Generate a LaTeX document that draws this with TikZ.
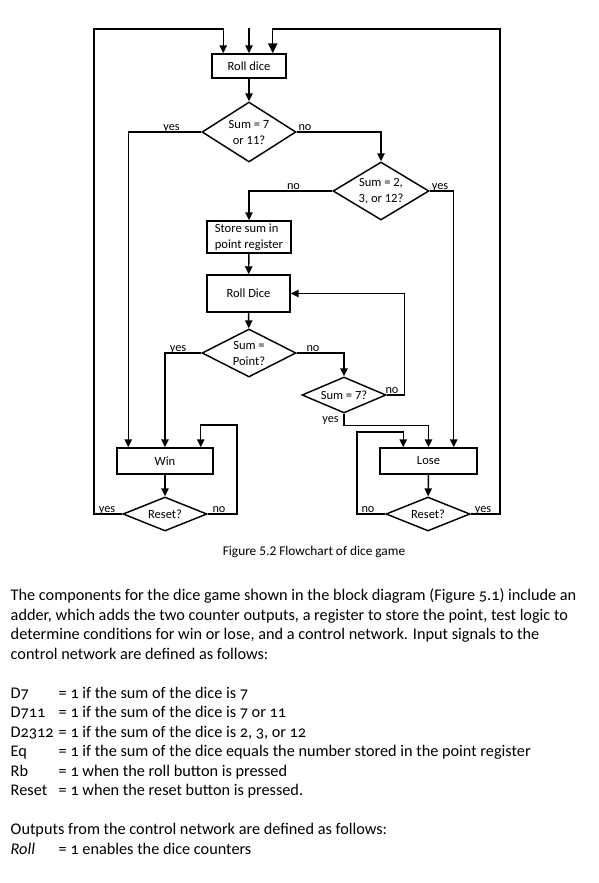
\documentclass[tikz,border=0pt]{standalone}
\usepackage{fontspec}
\setmainfont{Carlito}
\newfontfamily\bodyfont[Numbers=OldStyle]{Carlito}
\usetikzlibrary{arrows.meta,shapes.geometric,calc}
\def\px{*0.75pt}
\begin{document}
\begin{tikzpicture}[x=0.75pt,y=-0.75pt, line width=1.1pt,
  box/.style={draw, rectangle, inner sep=0pt, font=\fontsize{9.4}{12}\selectfont, align=center},
  dia/.style={draw, diamond, inner sep=0pt, font=\fontsize{9.4}{12}\selectfont, align=center},
  arr/.style={-{Triangle[length=6pt,width=5.5pt]}},
  bigarr/.style={-{Triangle[length=7.5pt,width=7pt]}},
  lab/.style={font=\fontsize{9.2}{10}\selectfont, inner sep=0pt, anchor=base},
  txt/.style={font=\bodyfont\fontsize{12.2}{14}\selectfont, inner sep=0pt, anchor=base west},
  ]
\useasboundingbox (0,0) rectangle (599,883);

% nodes
\node[box, minimum width=74\px, minimum height=24\px] (roll1) at (249,66) {Roll dice};
\node[dia, minimum width=94\px, minimum height=60\px, aspect=1.57] (d1) at (249,132) {Sum = 7\\or 11?};
\node[dia, minimum width=96\px, minimum height=58\px, aspect=1.65] (d2) at (381,191) {Sum = 2,\\3, or 12?};
\node[box, minimum width=84\px, minimum height=32\px, align=left] (store) at (249,237) {Store sum in\\point register};
\node[box, minimum width=83\px, minimum height=37\px] (roll2) at (248.5,293.5) {Roll Dice};
\node[dia, minimum width=94\px, minimum height=48\px, aspect=1.96] (d3) at (249,353) {Sum =\\Point?};
\node[dia, minimum width=84\px, minimum height=36\px, aspect=2.33] (d4) at (344,395) {Sum = 7?};
\node[box, minimum width=96\px, minimum height=26\px] (win) at (165,461) {Win};
\node[box, minimum width=97\px, minimum height=26\px] (lose) at (428.5,461) {Lose};
\node[dia, minimum width=84\px, minimum height=34\px, aspect=2.47] (r1) at (165,514) {Reset?};
\node[dia, minimum width=84\px, minimum height=34\px, aspect=2.47] (r2) at (428,514) {Reset?};

\coordinate (top) at (249,28);
\coordinate (leftc) at (94,29);
\coordinate (rightc) at (500,29);
\coordinate (rA) at (237,425);
\coordinate (rB) at (357,432);

% connectors
\draw[arr] (top) -- (roll1.north);
\draw[arr] (roll1) -- (d1);
\draw[arr] (d1.west) -| ($(win.north west)+(12,0)$);
\draw[arr] (d1.east) -| (d2.north);
\draw[arr] (d2.west) -| (store.north);
\draw[arr] (d2.east) -| ($(lose.north east)+(-24,0)$);
\draw[arr] (store) -- (roll2);
\draw[arr] (roll2) -- (d3);
\draw[arr] (d3.west) -| (win.north);
\draw[arr] (d3.east) -| (d4.north);
\draw[arr] (d4.east) -- ++(18,0) |- (roll2.east);
\draw[arr] (d4.south) -- ++(0,12) -| (lose.north);
\draw[arr] (win) -- (r1);
\draw[arr] (lose) -- (r2);
\draw[arr] (r1.west) -| (leftc) -| ($(roll1.north west)+(12,0)$);
\draw[arr] (r1.east) -| (rA) -| ($(win.north east)+(-13,0)$);
\draw[arr] (r2.west) -| (rB) -| ($(lose.north west)+(24,0)$);
\draw[bigarr] (r2.east) -| (rightc) -| ($(roll1.north east)+(-14,0)$);

% labels
\node[lab] (l1) at (171.5,130.5) {yes};
\node[lab] (l2) at (305,130.5) {no};
\node[lab] (l3) at (293.5,189.5) {no};
\node[lab] (l4) at (440,189.5) {yes};
\node[lab] (l5) at (178,351.5) {yes};
\node[lab] (l6) at (313,351.5) {no};
\node[lab] (l7) at (392,393.5) {no};
\node[lab] (l8) at (330.5,422.5) {yes};
\node[lab] (l9) at (107,512.5) {yes};
\node[lab] (l10) at (219,512.5) {no};
\node[lab] (l11) at (368,512.5) {no};
\node[lab] (l12) at (483,512.5) {yes};

\node[font=\fontsize{10}{11}\selectfont, anchor=base, inner sep=0pt] (cap) at (314,555) {Figure 5.2 Flowchart of dice game};

% text
\node[txt] (p1) at (10,600.5) {The components for the dice game shown in the block diagram (Figure 5.1) include an};
\node[txt] (p2) at (10,620) {adder, which adds the two counter outputs, a register to store the point, test logic to};
\node[txt] (p3) at (10,639.5) {determine conditions for win or lose, and a control network. Input signals to the};
\node[txt] (p4) at (10,659) {control network are defined as follows:};
\node[txt] (k1) at (10,698) {D7};
\node[txt] (v1) at (58,698) {= 1 if the sum of the dice is 7};
\node[txt] (k2) at (10,717.5) {D711};
\node[txt] (v2) at (58,717.5) {= 1 if the sum of the dice is 7 or 11};
\node[txt] (k3) at (10,737) {D2312};
\node[txt] (v3) at (58,737) {= 1 if the sum of the dice is 2, 3, or 12};
\node[txt] (k4) at (10,756.5) {Eq};
\node[txt] (v4) at (58,756.5) {= 1 if the sum of the dice equals the number stored in the point register};
\node[txt] (k5) at (10,776) {Rb};
\node[txt] (v5) at (58,776) {= 1 when the roll button is pressed};
\node[txt] (k6) at (10,795.5) {Reset};
\node[txt] (v6) at (58,795.5) {= 1 when the reset button is pressed.};
\node[txt] (o1) at (10,834.5) {Outputs from the control network are defined as follows:};
\node[txt] (k7) at (10,854) {\itshape Roll};
\node[txt] (v7) at (58,854) {= 1 enables the dice counters};
\end{tikzpicture}
\end{document}
